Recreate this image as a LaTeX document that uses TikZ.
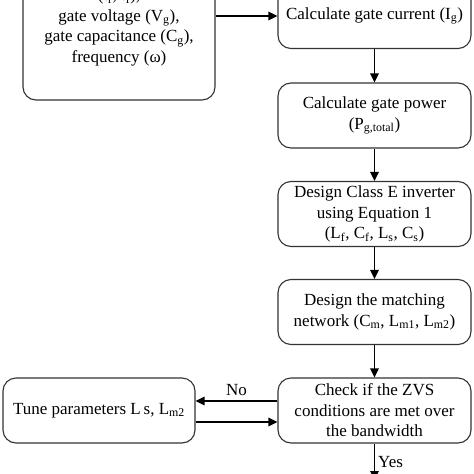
\documentclass[tikz,border=0pt]{standalone}
\usepackage{fontspec}
\setmainfont{Liberation Serif}
\usetikzlibrary{arrows.meta,positioning}
\newcommand{\sbs}[1]{\textsubscript{#1}}
\begin{document}
\begin{tikzpicture}[x=1pt,y=-1pt,
  box/.style={draw=black!80,line width=1.1pt,rounded corners=13pt,align=center,
    font=\fontsize{17}{20.5}\selectfont,inner sep=0pt},
  rbox/.style={box,minimum width=193pt,minimum height=65pt},
  conn/.style={line width=1.4pt,-{Triangle[length=9pt,width=8.5pt]}},
  lab/.style={font=\fontsize{17}{20.5}\selectfont,inner sep=1pt}]
\useasboundingbox (0,0) rectangle (474,474);
\clip (0,0) rectangle (474,474);
\fill[white] (0,0) rectangle (474,474);
\node[box,minimum width=192pt,minimum height=145pt] (inp) at (119,27.5)
  {(t\sbs{r}, t\sbs{f}),\\gate voltage (V\sbs{g}),\\gate capacitance (C\sbs{g}),\\frequency (ω)};
\node[rbox] (ig) at (374.5,16) {Calculate gate current (I\sbs{g})};
\node[rbox] (pg) at (374.5,115.5) {Calculate gate power\\(P\sbs{g,total})};
\node[rbox] (ce) at (374.5,214) {Design Class E inverter\\using Equation 1\\(L\sbs{f}, C\sbs{f}, L\sbs{s}, C\sbs{s})};
\node[rbox] (mn) at (374.5,312) {Design the matching\\network (C\sbs{m}, L\sbs{m1}, L\sbs{m2})};
\node[rbox] (zvs) at (374.5,410.5) {Check if the ZVS\\conditions are met over\\the bandwidth};
\node[box,minimum width=192pt,minimum height=65pt] (tune) at (99,410.5) {Tune parameters L\,s, L\sbs{m2}};
\coordinate (out) at (374.5,480);
\draw[conn] (inp.east |- ig.west) -- (ig.west);
\draw[conn] (ig) -- (pg);
\draw[conn] (pg) -- (ce);
\draw[conn] (ce) -- (mn);
\draw[conn] (mn) -- (zvs);
\draw[conn] ([yshift=9.5pt]zvs.west) -- node[lab,above=4pt] (no) {No} ([yshift=9.5pt]tune.east);
\draw[conn] ([yshift=-11.5pt]tune.east) -- ([yshift=-11.5pt]zvs.west);
\draw[conn] (zvs) -- node[lab,right=2pt,pos=0.5] (yes) {Yes} (out);
\end{tikzpicture}
\end{document}
